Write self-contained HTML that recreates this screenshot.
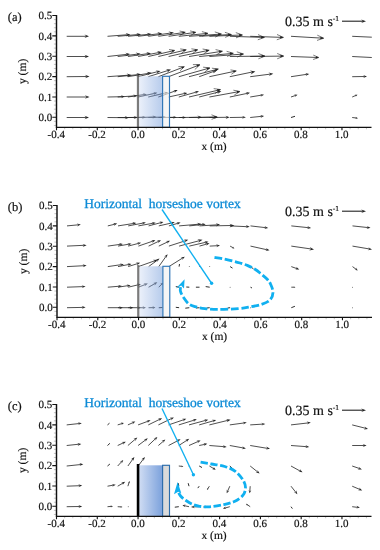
<!DOCTYPE html>
<html><head><meta charset="utf-8"><title>Figure</title>
<style>
html,body{margin:0;padding:0;background:#fff}
svg{display:block}
text{font-family:"Liberation Serif",serif;text-rendering:geometricPrecision;fill:#111;stroke:#111;stroke-width:0.18px}
.t{font-size:11px}
.al{font-size:11.5px}
.pl{font-size:12.5px}
.rf{font-size:14px}
.bl{white-space:pre;font-size:13.5px;fill:#0d8bd6;stroke:#0d8bd6;stroke-width:0.28px}
</style></head><body>
<svg width="380" height="550" viewBox="0 0 380 550">
<defs>
<linearGradient id="g1" x1="0" x2="1" y1="0" y2="0"><stop offset="0" stop-color="#dde6f7"/><stop offset="1" stop-color="#86a9df"/></linearGradient>
<linearGradient id="g2" x1="0" x2="1" y1="0" y2="0"><stop offset="0" stop-color="#cfdcf3"/><stop offset="1" stop-color="#7ba1dc"/></linearGradient>
</defs>
<rect width="380" height="550" fill="#fff"/>
<path d="M66.7 36.3L86.3 36.3" stroke="#222" stroke-width="0.8" fill="none"/>
<path d="M89.0 36.3L84.5 38.0L86.3 36.3L84.5 34.6Z" fill="#222"/>
<path d="M107.5 36.3L127.6 34.7" stroke="#222" stroke-width="0.8" fill="none"/>
<path d="M130.3 34.5L125.9 36.6L127.6 34.7L125.6 33.1Z" fill="#222"/>
<path d="M117.7 36.3L138.2 34.5" stroke="#222" stroke-width="0.8" fill="none"/>
<path d="M141.0 34.3L136.5 36.5L138.2 34.5L136.2 32.9Z" fill="#222"/>
<path d="M127.9 36.3L148.7 34.3" stroke="#222" stroke-width="0.8" fill="none"/>
<path d="M151.5 34.0L146.9 36.3L148.7 34.3L146.6 32.7Z" fill="#222"/>
<path d="M138.1 36.3L159.3 33.7" stroke="#222" stroke-width="0.8" fill="none"/>
<path d="M162.2 33.4L157.6 35.8L159.3 33.7L157.2 32.1Z" fill="#222"/>
<path d="M148.3 36.3L170.8 33.0" stroke="#222" stroke-width="0.8" fill="none"/>
<path d="M173.9 32.6L169.1 35.3L170.8 33.0L168.5 31.4Z" fill="#222"/>
<path d="M158.4 36.3L184.5 32.4" stroke="#222" stroke-width="0.8" fill="none"/>
<path d="M180.2 35.2L185.3 32.3L179.6 31.0" stroke="#333" stroke-width="0.65" fill="none" stroke-linejoin="miter"/>
<path d="M185.3 32.3L182.8 33.8L182.5 31.6Z" fill="#222"/>
<path d="M168.6 36.3L195.1 32.4" stroke="#222" stroke-width="0.8" fill="none"/>
<path d="M190.8 35.3L195.9 32.3L190.1 30.9" stroke="#333" stroke-width="0.65" fill="none" stroke-linejoin="miter"/>
<path d="M195.9 32.3L193.3 33.8L193.0 31.6Z" fill="#222"/>
<path d="M178.8 36.3L207.2 33.4" stroke="#222" stroke-width="0.8" fill="none"/>
<path d="M202.4 36.2L208.0 33.3L201.9 31.6" stroke="#333" stroke-width="0.65" fill="none" stroke-linejoin="miter"/>
<path d="M208.0 33.3L205.2 34.8L205.0 32.4Z" fill="#222"/>
<path d="M189.0 36.3L220.7 34.1" stroke="#222" stroke-width="0.8" fill="none"/>
<path d="M215.2 37.1L221.5 34.0L214.8 31.9" stroke="#333" stroke-width="0.65" fill="none" stroke-linejoin="miter"/>
<path d="M221.5 34.0L218.3 35.5L218.2 32.9Z" fill="#222"/>
<path d="M199.2 36.3L230.7 34.5" stroke="#222" stroke-width="0.8" fill="none"/>
<path d="M225.2 37.4L231.5 34.5L224.9 32.3" stroke="#333" stroke-width="0.65" fill="none" stroke-linejoin="miter"/>
<path d="M231.5 34.5L228.3 36.0L228.2 33.4Z" fill="#222"/>
<path d="M209.4 36.3L241.7 35.0" stroke="#222" stroke-width="0.8" fill="none"/>
<path d="M236.0 37.9L242.5 35.0L235.8 32.6" stroke="#333" stroke-width="0.65" fill="none" stroke-linejoin="miter"/>
<path d="M242.5 35.0L239.3 36.4L239.2 33.8Z" fill="#222"/>
<path d="M229.8 36.3L263.7 37.4" stroke="#222" stroke-width="0.8" fill="none"/>
<path d="M257.8 39.8L264.5 37.4L258.0 34.6" stroke="#333" stroke-width="0.65" fill="none" stroke-linejoin="miter"/>
<path d="M264.5 37.4L261.2 38.6L261.2 36.0Z" fill="#222"/>
<path d="M250.2 36.3L282.7 37.4" stroke="#222" stroke-width="0.8" fill="none"/>
<path d="M276.8 39.8L283.5 37.4L277.0 34.5" stroke="#333" stroke-width="0.65" fill="none" stroke-linejoin="miter"/>
<path d="M283.5 37.4L280.2 38.6L280.2 36.0Z" fill="#222"/>
<path d="M291.0 36.3L323.0 38.2" stroke="#222" stroke-width="0.8" fill="none"/>
<path d="M317.0 40.4L323.8 38.2L317.3 35.2" stroke="#333" stroke-width="0.65" fill="none" stroke-linejoin="miter"/>
<path d="M323.8 38.2L320.4 39.3L320.5 36.7Z" fill="#222"/>
<path d="M352.2 36.3l19.6 0.9" stroke="#222" stroke-width="0.8" fill="none"/>
<path d="M66.7 56.5L86.3 56.5" stroke="#222" stroke-width="0.8" fill="none"/>
<path d="M89.0 56.5L84.5 58.2L86.3 56.5L84.5 54.8Z" fill="#222"/>
<path d="M107.5 56.5L127.3 54.3" stroke="#222" stroke-width="0.8" fill="none"/>
<path d="M130.0 54.0L125.7 56.2L127.3 54.3L125.3 52.8Z" fill="#222"/>
<path d="M117.7 56.5L137.8 54.1" stroke="#222" stroke-width="0.8" fill="none"/>
<path d="M140.5 53.8L136.1 56.1L137.8 54.1L135.7 52.6Z" fill="#222"/>
<path d="M127.9 56.5L148.2 53.6" stroke="#222" stroke-width="0.8" fill="none"/>
<path d="M151.0 53.2L146.6 55.6L148.2 53.6L146.1 52.1Z" fill="#222"/>
<path d="M138.1 56.5L159.1 52.5" stroke="#222" stroke-width="0.8" fill="none"/>
<path d="M162.0 52.0L157.6 54.7L159.1 52.5L156.9 51.1Z" fill="#222"/>
<path d="M148.3 56.5L174.0 50.6" stroke="#222" stroke-width="0.8" fill="none"/>
<path d="M170.0 53.7L174.8 50.4L169.0 49.5" stroke="#333" stroke-width="0.65" fill="none" stroke-linejoin="miter"/>
<path d="M174.8 50.4L172.4 52.1L171.9 49.9Z" fill="#222"/>
<path d="M158.4 56.5L185.5 50.0" stroke="#222" stroke-width="0.8" fill="none"/>
<path d="M181.3 53.4L186.3 49.8L180.2 48.9" stroke="#333" stroke-width="0.65" fill="none" stroke-linejoin="miter"/>
<path d="M186.3 49.8L183.8 51.6L183.2 49.4Z" fill="#222"/>
<path d="M168.6 56.5L197.0 50.0" stroke="#222" stroke-width="0.8" fill="none"/>
<path d="M192.5 53.5L197.8 49.8L191.4 48.8" stroke="#333" stroke-width="0.65" fill="none" stroke-linejoin="miter"/>
<path d="M197.8 49.8L195.2 51.6L194.6 49.3Z" fill="#222"/>
<path d="M178.8 56.5L208.4 50.4" stroke="#222" stroke-width="0.8" fill="none"/>
<path d="M203.6 53.9L209.2 50.2L202.6 49.0" stroke="#333" stroke-width="0.65" fill="none" stroke-linejoin="miter"/>
<path d="M209.2 50.2L206.4 52.0L205.9 49.6Z" fill="#222"/>
<path d="M189.0 56.5L221.7 51.3" stroke="#222" stroke-width="0.8" fill="none"/>
<path d="M216.4 54.8L222.5 51.2L215.6 49.6" stroke="#333" stroke-width="0.65" fill="none" stroke-linejoin="miter"/>
<path d="M222.5 51.2L219.4 53.0L219.0 50.4Z" fill="#222"/>
<path d="M199.2 56.5L232.6 53.4" stroke="#222" stroke-width="0.8" fill="none"/>
<path d="M227.1 56.5L233.4 53.3L226.6 51.3" stroke="#333" stroke-width="0.65" fill="none" stroke-linejoin="miter"/>
<path d="M233.4 53.3L230.2 54.9L230.0 52.3Z" fill="#222"/>
<path d="M209.4 56.5L242.8 54.1" stroke="#222" stroke-width="0.8" fill="none"/>
<path d="M237.2 57.1L243.6 54.0L236.8 51.8" stroke="#333" stroke-width="0.65" fill="none" stroke-linejoin="miter"/>
<path d="M243.6 54.0L240.4 55.6L240.2 52.9Z" fill="#222"/>
<path d="M229.8 56.5L264.2 56.1" stroke="#222" stroke-width="0.8" fill="none"/>
<path d="M258.4 58.8L265.0 56.1L258.4 53.5" stroke="#333" stroke-width="0.65" fill="none" stroke-linejoin="miter"/>
<path d="M265.0 56.1L261.7 57.5L261.7 54.8Z" fill="#222"/>
<path d="M250.2 56.5L283.0 56.1" stroke="#222" stroke-width="0.8" fill="none"/>
<path d="M277.2 58.8L283.8 56.1L277.2 53.5" stroke="#333" stroke-width="0.65" fill="none" stroke-linejoin="miter"/>
<path d="M283.8 56.1L280.5 57.5L280.5 54.8Z" fill="#222"/>
<path d="M291.0 56.5L318.0 57.5" stroke="#222" stroke-width="0.8" fill="none"/>
<path d="M313.1 59.5L318.8 57.5L313.3 55.1" stroke="#333" stroke-width="0.65" fill="none" stroke-linejoin="miter"/>
<path d="M318.8 57.5L315.9 58.5L316.0 56.3Z" fill="#222"/>
<path d="M352.2 56.5l19.6 1.0" stroke="#222" stroke-width="0.8" fill="none"/>
<path d="M66.7 76.7L86.8 76.5" stroke="#222" stroke-width="0.8" fill="none"/>
<path d="M89.5 76.5L85.0 78.3L86.8 76.5L84.9 74.8Z" fill="#222"/>
<path d="M107.5 76.7L128.6 75.2" stroke="#222" stroke-width="0.8" fill="none"/>
<path d="M131.5 75.0L126.8 77.2L128.6 75.2L126.6 73.5Z" fill="#222"/>
<path d="M117.7 76.7L138.2 74.6" stroke="#222" stroke-width="0.8" fill="none"/>
<path d="M141.0 74.3L136.5 76.6L138.2 74.6L136.2 73.0Z" fill="#222"/>
<path d="M127.9 76.7L148.8 73.3" stroke="#222" stroke-width="0.8" fill="none"/>
<path d="M151.6 72.8L147.1 75.4L148.8 73.3L146.6 71.8Z" fill="#222"/>
<path d="M138.1 76.7L157.8 71.6" stroke="#222" stroke-width="0.8" fill="none"/>
<path d="M160.5 70.9L156.5 73.8L157.8 71.6L155.6 70.4Z" fill="#222"/>
<path d="M148.3 76.7L168.3 70.4" stroke="#222" stroke-width="0.8" fill="none"/>
<path d="M171.0 69.5L167.0 72.7L168.3 70.4L165.9 69.2Z" fill="#222"/>
<path d="M158.4 76.7L183.7 67.0" stroke="#222" stroke-width="0.8" fill="none"/>
<path d="M180.0 70.8L184.4 66.7L178.4 66.6" stroke="#333" stroke-width="0.65" fill="none" stroke-linejoin="miter"/>
<path d="M184.4 66.7L182.2 68.7L181.4 66.7Z" fill="#222"/>
<path d="M168.6 76.7L199.3 65.0" stroke="#222" stroke-width="0.8" fill="none"/>
<path d="M194.8 69.5L200.0 64.7L192.9 64.6" stroke="#333" stroke-width="0.65" fill="none" stroke-linejoin="miter"/>
<path d="M200.0 64.7L197.4 67.1L196.4 64.6Z" fill="#222"/>
<path d="M178.8 76.7L209.2 68.1" stroke="#222" stroke-width="0.8" fill="none"/>
<path d="M204.5 72.2L210.0 67.9L203.1 67.2" stroke="#333" stroke-width="0.65" fill="none" stroke-linejoin="miter"/>
<path d="M210.0 67.9L207.2 70.0L206.5 67.5Z" fill="#222"/>
<path d="M189.0 76.7L217.6 69.2" stroke="#222" stroke-width="0.8" fill="none"/>
<path d="M213.1 72.9L218.4 69.0L211.9 68.2" stroke="#333" stroke-width="0.65" fill="none" stroke-linejoin="miter"/>
<path d="M218.4 69.0L215.8 70.9L215.2 68.6Z" fill="#222"/>
<path d="M199.2 76.7L214.8 71.0" stroke="#222" stroke-width="0.8" fill="none"/>
<path d="M217.0 70.2L213.8 72.9L214.8 71.0L212.8 70.1Z" fill="#222"/>
<path d="M209.4 76.7L235.5 71.1" stroke="#222" stroke-width="0.8" fill="none"/>
<path d="M231.4 74.2L236.3 70.9L230.5 69.9" stroke="#333" stroke-width="0.65" fill="none" stroke-linejoin="miter"/>
<path d="M236.3 70.9L233.8 72.6L233.4 70.4Z" fill="#222"/>
<path d="M229.8 76.7L252.3 72.0" stroke="#222" stroke-width="0.8" fill="none"/>
<path d="M255.4 71.4L250.7 74.4L252.3 72.0L249.9 70.5Z" fill="#222"/>
<path d="M250.2 76.7L270.5 74.1" stroke="#222" stroke-width="0.8" fill="none"/>
<path d="M273.3 73.7L268.9 76.1L270.5 74.1L268.5 72.5Z" fill="#222"/>
<path d="M291.0 76.7L306.9 74.3" stroke="#222" stroke-width="0.8" fill="none"/>
<path d="M309.2 73.9L305.6 76.0L306.9 74.3L305.2 73.0Z" fill="#222"/>
<path d="M352.2 76.7L364.7 76.5" stroke="#222" stroke-width="0.8" fill="none"/>
<path d="M367.0 76.5L363.1 78.0L364.7 76.5L363.1 75.1Z" fill="#222"/>
<path d="M66.7 97.0L86.8 97.0" stroke="#222" stroke-width="0.8" fill="none"/>
<path d="M89.5 97.0L84.9 98.7L86.8 97.0L84.9 95.3Z" fill="#222"/>
<path d="M107.5 97.0L122.5 96.7" stroke="#222" stroke-width="0.8" fill="none"/>
<path d="M124.8 96.6L120.9 98.2L122.5 96.7L120.9 95.2Z" fill="#222"/>
<path d="M117.7 97.0L134.9 95.9" stroke="#222" stroke-width="0.8" fill="none"/>
<path d="M137.3 95.7L133.5 97.5L134.9 95.9L133.3 94.5Z" fill="#222"/>
<path d="M127.9 97.0L144.5 94.5" stroke="#222" stroke-width="0.8" fill="none"/>
<path d="M146.8 94.2L143.2 96.2L144.5 94.5L142.7 93.3Z" fill="#222"/>
<path d="M138.1 97.0L155.0 93.3" stroke="#222" stroke-width="0.8" fill="none"/>
<path d="M157.3 92.8L153.8 95.1L155.0 93.3L153.1 92.2Z" fill="#222"/>
<path d="M148.3 97.0L165.8 92.9" stroke="#222" stroke-width="0.8" fill="none"/>
<path d="M168.2 92.3L164.6 94.8L165.8 92.9L163.9 91.7Z" fill="#222"/>
<path d="M158.4 97.0L175.4 90.9" stroke="#222" stroke-width="0.8" fill="none"/>
<path d="M177.7 90.1L174.4 92.9L175.4 90.9L173.3 90.0Z" fill="#222"/>
<path d="M168.6 97.0L185.0 93.4" stroke="#222" stroke-width="0.8" fill="none"/>
<path d="M187.3 92.9L183.8 95.2L185.0 93.4L183.2 92.3Z" fill="#222"/>
<path d="M178.8 97.0L196.6 92.0" stroke="#222" stroke-width="0.8" fill="none"/>
<path d="M199.0 91.3L195.4 94.0L196.6 92.0L194.5 90.9Z" fill="#222"/>
<path d="M189.0 97.0L219.8 89.8" stroke="#222" stroke-width="0.8" fill="none"/>
<path d="M214.9 93.6L220.6 89.6L213.7 88.6" stroke="#333" stroke-width="0.65" fill="none" stroke-linejoin="miter"/>
<path d="M220.6 89.6L217.7 91.6L217.1 89.1Z" fill="#222"/>
<path d="M199.2 97.0L218.7 92.0" stroke="#222" stroke-width="0.8" fill="none"/>
<path d="M221.4 91.3L217.4 94.1L218.7 92.0L216.5 90.8Z" fill="#222"/>
<path d="M209.4 97.0L239.2 91.6" stroke="#222" stroke-width="0.8" fill="none"/>
<path d="M234.3 95.0L240.0 91.5L233.4 90.2" stroke="#333" stroke-width="0.65" fill="none" stroke-linejoin="miter"/>
<path d="M240.0 91.5L237.2 93.3L236.7 90.8Z" fill="#222"/>
<path d="M229.8 97.0L247.6 93.3" stroke="#222" stroke-width="0.8" fill="none"/>
<path d="M250.0 92.8L246.3 95.2L247.6 93.3L245.6 92.1Z" fill="#222"/>
<path d="M250.2 97.0L261.8 95.1" stroke="#222" stroke-width="0.8" fill="none"/>
<path d="M264.1 94.7L260.5 96.8L261.8 95.1L260.0 93.9Z" fill="#222"/>
<path d="M291.0 97.0L295.7 95.4" stroke="#222" stroke-width="0.8" fill="none"/>
<path d="M297.5 94.8L295.0 97.1L295.7 95.4L294.1 94.5Z" fill="#222"/>
<path d="M352.2 97.0L356.1 95.3" stroke="#222" stroke-width="0.8" fill="none"/>
<path d="M357.5 94.7L355.6 96.8L356.1 95.3L354.6 94.7Z" fill="#222"/>
<path d="M66.7 117.5L86.3 117.5" stroke="#222" stroke-width="0.8" fill="none"/>
<path d="M89.0 117.5L84.5 119.2L86.3 117.5L84.5 115.8Z" fill="#222"/>
<path d="M107.5 117.5L126.4 117.7" stroke="#222" stroke-width="0.8" fill="none"/>
<path d="M129.0 117.7L124.7 119.3L126.4 117.7L124.7 116.0Z" fill="#222"/>
<path d="M117.7 117.5L135.2 117.5" stroke="#222" stroke-width="0.8" fill="none"/>
<path d="M137.6 117.5L133.6 119.0L135.2 117.5L133.6 116.0Z" fill="#222"/>
<path d="M127.9 117.5L143.6 117.3" stroke="#222" stroke-width="0.8" fill="none"/>
<path d="M145.9 117.3L142.0 118.8L143.6 117.3L142.0 115.9Z" fill="#222"/>
<path d="M138.1 117.5L154.1 117.1" stroke="#222" stroke-width="0.8" fill="none"/>
<path d="M156.4 117.0L152.5 118.6L154.1 117.1L152.5 115.6Z" fill="#222"/>
<path d="M148.3 117.5L163.7 117.1" stroke="#222" stroke-width="0.8" fill="none"/>
<path d="M166.0 117.0L162.1 118.6L163.7 117.1L162.1 115.6Z" fill="#222"/>
<path d="M158.4 117.5L174.5 117.3" stroke="#222" stroke-width="0.8" fill="none"/>
<path d="M176.8 117.3L172.9 118.8L174.5 117.3L172.9 115.9Z" fill="#222"/>
<path d="M168.6 117.5L183.7 117.5" stroke="#222" stroke-width="0.8" fill="none"/>
<path d="M186.0 117.5L182.1 119.0L183.7 117.5L182.1 116.0Z" fill="#222"/>
<path d="M178.8 117.5L199.2 117.3" stroke="#222" stroke-width="0.8" fill="none"/>
<path d="M202.0 117.3L197.4 119.1L199.2 117.3L197.4 115.6Z" fill="#222"/>
<path d="M189.0 117.5L216.4 117.0" stroke="#222" stroke-width="0.8" fill="none"/>
<path d="M211.6 119.4L217.2 117.0L211.5 114.8" stroke="#333" stroke-width="0.65" fill="none" stroke-linejoin="miter"/>
<path d="M217.2 117.0L214.4 118.2L214.4 115.9Z" fill="#222"/>
<path d="M199.2 117.5L215.7 117.3" stroke="#222" stroke-width="0.8" fill="none"/>
<path d="M218.0 117.3L214.1 118.8L215.7 117.3L214.1 115.9Z" fill="#222"/>
<path d="M209.4 117.5L227.2 117.3" stroke="#222" stroke-width="0.8" fill="none"/>
<path d="M229.6 117.3L225.6 118.9L227.2 117.3L225.5 115.8Z" fill="#222"/>
<path d="M229.8 117.5L243.6 117.3" stroke="#222" stroke-width="0.8" fill="none"/>
<path d="M245.9 117.3L242.0 118.8L243.6 117.3L242.0 115.9Z" fill="#222"/>
<path d="M250.2 117.5L261.8 116.3" stroke="#222" stroke-width="0.8" fill="none"/>
<path d="M264.1 116.1L260.4 118.0L261.8 116.3L260.1 115.0Z" fill="#222"/>
<path d="M291.0 117.5L295.0 116.3" stroke="#222" stroke-width="0.9500000000000001" fill="none"/>
<path d="M352.2 117.5L356.4 118.0" stroke="#222" stroke-width="0.8" fill="none"/>
<path d="M358.0 118.2L355.2 119.1L356.4 118.0L355.5 116.7Z" fill="#222"/>
<rect x="139.16" y="76.30" width="23.44" height="51.05" fill="url(#g1)" opacity="0.6"/>
<rect x="136.86" y="75.00" width="2.2" height="52.35" fill="#5a5a5a" opacity="0.8"/>
<rect x="162.60" y="76.30" width="6.9" height="51.05" fill="#f0f0f0" fill-opacity="0.66" stroke="#2e75b6" stroke-width="1.15"/>
<clipPath id="cpa"><rect x="139.16" y="76.30" width="22.94" height="51.05"/></clipPath>
<g clip-path="url(#cpa)" opacity="0.38">
<path d="M117.7 97.0L134.9 95.9" stroke="#3c4a66" stroke-width="1.0" fill="none"/>
<path d="M137.3 95.7L133.5 97.5L134.9 95.9L133.3 94.5Z" fill="#3c4a66"/>
<path d="M127.9 97.0L144.5 94.5" stroke="#3c4a66" stroke-width="1.0" fill="none"/>
<path d="M146.8 94.2L143.2 96.2L144.5 94.5L142.7 93.3Z" fill="#3c4a66"/>
<path d="M138.1 97.0L155.0 93.3" stroke="#3c4a66" stroke-width="1.0" fill="none"/>
<path d="M157.3 92.8L153.8 95.1L155.0 93.3L153.1 92.2Z" fill="#3c4a66"/>
<path d="M148.3 97.0L165.8 92.9" stroke="#3c4a66" stroke-width="1.0" fill="none"/>
<path d="M168.2 92.3L164.6 94.8L165.8 92.9L163.9 91.7Z" fill="#3c4a66"/>
<path d="M158.4 97.0L175.4 90.9" stroke="#3c4a66" stroke-width="1.0" fill="none"/>
<path d="M177.7 90.1L174.4 92.9L175.4 90.9L173.3 90.0Z" fill="#3c4a66"/>
<path d="M117.7 117.5L135.2 117.5" stroke="#3c4a66" stroke-width="1.0" fill="none"/>
<path d="M137.6 117.5L133.6 119.0L135.2 117.5L133.6 116.0Z" fill="#3c4a66"/>
<path d="M127.9 117.5L143.6 117.3" stroke="#3c4a66" stroke-width="1.0" fill="none"/>
<path d="M145.9 117.3L142.0 118.8L143.6 117.3L142.0 115.9Z" fill="#3c4a66"/>
<path d="M138.1 117.5L154.1 117.1" stroke="#3c4a66" stroke-width="1.0" fill="none"/>
<path d="M156.4 117.0L152.5 118.6L154.1 117.1L152.5 115.6Z" fill="#3c4a66"/>
<path d="M148.3 117.5L163.7 117.1" stroke="#3c4a66" stroke-width="1.0" fill="none"/>
<path d="M166.0 117.0L162.1 118.6L163.7 117.1L162.1 115.6Z" fill="#3c4a66"/>
<path d="M158.4 117.5L174.5 117.3" stroke="#3c4a66" stroke-width="1.0" fill="none"/>
<path d="M176.8 117.3L172.9 118.8L174.5 117.3L172.9 115.9Z" fill="#3c4a66"/>
</g>
<path d="M56.50 125.44h-2.6M56.50 121.37h-2.6M56.50 113.23h-2.6M56.50 109.16h-2.6M56.50 105.09h-2.6M56.50 101.02h-2.6M56.50 92.88h-2.6M56.50 88.81h-2.6M56.50 84.74h-2.6M56.50 80.67h-2.6M56.50 72.53h-2.6M56.50 68.46h-2.6M56.50 64.39h-2.6M56.50 60.32h-2.6M56.50 52.18h-2.6M56.50 48.11h-2.6M56.50 44.04h-2.6M56.50 39.97h-2.6M56.50 31.83h-2.6M56.50 27.76h-2.6M56.50 23.69h-2.6M56.50 19.62h-2.6M64.66 127.35v1.9M72.81 127.35v1.9M80.97 127.35v1.9M89.12 127.35v1.9M105.44 127.35v1.9M113.59 127.35v1.9M121.75 127.35v1.9M129.90 127.35v1.9M146.22 127.35v1.9M154.37 127.35v1.9M162.53 127.35v1.9M170.68 127.35v1.9M187.00 127.35v1.9M195.15 127.35v1.9M203.31 127.35v1.9M211.46 127.35v1.9M227.78 127.35v1.9M235.93 127.35v1.9M244.09 127.35v1.9M252.24 127.35v1.9M268.56 127.35v1.9M276.71 127.35v1.9M284.87 127.35v1.9M293.02 127.35v1.9M309.34 127.35v1.9M317.49 127.35v1.9M325.65 127.35v1.9M333.80 127.35v1.9M350.12 127.35v1.9M358.27 127.35v1.9M366.43 127.35v1.9" stroke="#9a9a9a" stroke-width="0.6" fill="none"/>
<path d="M56.50 117.30h-4.2M56.50 96.95h-4.2M56.50 76.60h-4.2M56.50 56.25h-4.2M56.50 35.90h-4.2M56.50 15.55h-4.2M56.50 127.35v2.9M97.28 127.35v2.9M138.06 127.35v2.9M178.84 127.35v2.9M219.62 127.35v2.9M260.40 127.35v2.9M301.18 127.35v2.9M341.96 127.35v2.9" stroke="#111" stroke-width="1.1" fill="none"/>
<path d="M56.50 15.00V127.35H371.50" fill="none" stroke="#111" stroke-width="1.45"/>
<text x="52.20" y="121.00" text-anchor="end" class="t">0.0</text>
<text x="52.20" y="100.65" text-anchor="end" class="t">0.1</text>
<text x="52.20" y="80.30" text-anchor="end" class="t">0.2</text>
<text x="52.20" y="59.95" text-anchor="end" class="t">0.3</text>
<text x="52.20" y="39.60" text-anchor="end" class="t">0.4</text>
<text x="52.20" y="19.25" text-anchor="end" class="t">0.5</text>
<text x="56.20" y="137.80" text-anchor="middle" class="t">-0.4</text>
<text x="96.98" y="137.80" text-anchor="middle" class="t">-0.2</text>
<text x="137.76" y="137.80" text-anchor="middle" class="t">0.0</text>
<text x="178.54" y="137.80" text-anchor="middle" class="t">0.2</text>
<text x="219.32" y="137.80" text-anchor="middle" class="t">0.4</text>
<text x="260.10" y="137.80" text-anchor="middle" class="t">0.6</text>
<text x="300.88" y="137.80" text-anchor="middle" class="t">0.8</text>
<text x="341.66" y="137.80" text-anchor="middle" class="t">1.0</text>
<text x="214.10" y="149.95" text-anchor="middle" class="al">x (m)</text>
<text transform="translate(26.20 71.40) rotate(-90)" text-anchor="middle" class="al">y (m)</text>
<text x="7.8" y="21.05" class="pl">(a)</text>
<text x="285" y="26.15" class="rf">0.35 m s<tspan dy="-5" font-size="7.5">-1</tspan></text>
<path d="M342.0 21.2L363.1 21.2" stroke="#222" stroke-width="1.1" fill="none"/>
<path d="M366.0 21.2L361.2 23.1L363.1 21.2L361.2 19.4Z" fill="#222"/>
<path d="M67.0 225.9L78.5 224.8" stroke="#222" stroke-width="0.8" fill="none"/>
<path d="M80.8 224.6L77.1 226.4L78.5 224.8L76.8 223.5Z" fill="#222"/>
<path d="M107.8 225.9L114.9 224.2" stroke="#222" stroke-width="0.8" fill="none"/>
<path d="M117.2 223.6L113.8 226.0L114.9 224.2L113.1 223.1Z" fill="#222"/>
<path d="M118.0 225.9L134.0 223.4" stroke="#222" stroke-width="0.8" fill="none"/>
<path d="M136.3 223.0L132.7 225.1L134.0 223.4L132.2 222.1Z" fill="#222"/>
<path d="M128.2 225.9L143.6 223.0" stroke="#222" stroke-width="0.8" fill="none"/>
<path d="M145.9 222.6L142.3 224.8L143.6 223.0L141.8 221.9Z" fill="#222"/>
<path d="M138.4 225.9L153.4 223.2" stroke="#222" stroke-width="0.8" fill="none"/>
<path d="M155.7 222.8L152.1 224.9L153.4 223.2L151.6 222.0Z" fill="#222"/>
<path d="M148.6 225.9L161.1 222.6" stroke="#222" stroke-width="0.8" fill="none"/>
<path d="M163.4 222.0L160.0 224.4L161.1 222.6L159.3 221.6Z" fill="#222"/>
<path d="M158.8 225.9L172.5 222.8" stroke="#222" stroke-width="0.8" fill="none"/>
<path d="M174.8 222.3L171.3 224.6L172.5 222.8L170.7 221.7Z" fill="#222"/>
<path d="M168.9 225.9L178.3 223.2" stroke="#222" stroke-width="0.8" fill="none"/>
<path d="M180.6 222.6L177.3 225.1L178.3 223.2L176.4 222.2Z" fill="#222"/>
<path d="M179.1 225.9L198.9 224.2" stroke="#222" stroke-width="0.8" fill="none"/>
<path d="M201.6 224.0L197.3 226.1L198.9 224.2L197.0 222.7Z" fill="#222"/>
<path d="M189.3 225.9L203.4 224.4" stroke="#222" stroke-width="0.8" fill="none"/>
<path d="M205.7 224.2L202.0 226.1L203.4 224.4L201.7 223.1Z" fill="#222"/>
<path d="M199.5 225.9L217.5 224.8" stroke="#222" stroke-width="0.8" fill="none"/>
<path d="M220.0 224.6L216.0 226.4L217.5 224.8L215.8 223.3Z" fill="#222"/>
<path d="M209.7 225.9L231.4 225.5" stroke="#222" stroke-width="0.8" fill="none"/>
<path d="M234.4 225.5L229.5 227.5L231.4 225.5L229.4 223.7Z" fill="#222"/>
<path d="M230.1 225.9L247.3 226.7" stroke="#222" stroke-width="0.8" fill="none"/>
<path d="M249.7 226.8L245.7 228.1L247.3 226.7L245.9 225.1Z" fill="#222"/>
<path d="M250.5 225.9L265.9 227.7" stroke="#222" stroke-width="0.8" fill="none"/>
<path d="M268.2 228.0L264.2 229.0L265.9 227.7L264.5 226.1Z" fill="#222"/>
<path d="M291.3 225.9L308.7 227.7" stroke="#222" stroke-width="0.8" fill="none"/>
<path d="M311.1 228.0L307.0 229.1L308.7 227.7L307.3 226.1Z" fill="#222"/>
<path d="M352.5 225.9L368.2 227.6" stroke="#222" stroke-width="0.8" fill="none"/>
<path d="M370.5 227.8L366.5 228.9L368.2 227.6L366.8 225.9Z" fill="#222"/>
<path d="M67.0 246.1L84.2 245.3" stroke="#222" stroke-width="0.8" fill="none"/>
<path d="M86.6 245.2L82.7 246.9L84.2 245.3L82.6 243.9Z" fill="#222"/>
<path d="M107.8 246.1L120.6 244.3" stroke="#222" stroke-width="0.8" fill="none"/>
<path d="M122.9 244.0L119.2 246.0L120.6 244.3L118.8 243.1Z" fill="#222"/>
<path d="M118.0 246.1L129.2 244.1" stroke="#222" stroke-width="0.8" fill="none"/>
<path d="M131.5 243.7L127.9 245.8L129.2 244.1L127.4 242.9Z" fill="#222"/>
<path d="M128.2 246.1L138.8 243.3" stroke="#222" stroke-width="0.8" fill="none"/>
<path d="M141.1 242.7L137.7 245.1L138.8 243.3L137.0 242.3Z" fill="#222"/>
<path d="M138.4 246.1L153.2 241.0" stroke="#222" stroke-width="0.8" fill="none"/>
<path d="M155.4 240.2L152.2 242.9L153.2 241.0L151.2 240.1Z" fill="#222"/>
<path d="M148.6 246.1L158.9 241.2" stroke="#222" stroke-width="0.8" fill="none"/>
<path d="M161.0 240.2L158.1 243.2L158.9 241.2L156.8 240.5Z" fill="#222"/>
<path d="M158.8 246.1L167.9 241.8" stroke="#222" stroke-width="0.8" fill="none"/>
<path d="M170.0 240.8L167.1 243.8L167.9 241.8L165.8 241.1Z" fill="#222"/>
<path d="M168.9 246.1L185.9 240.6" stroke="#222" stroke-width="0.8" fill="none"/>
<path d="M188.2 239.8L184.8 242.5L185.9 240.6L183.9 239.6Z" fill="#222"/>
<path d="M179.1 246.1L199.7 240.6" stroke="#222" stroke-width="0.8" fill="none"/>
<path d="M202.5 239.8L198.3 242.8L199.7 240.6L197.3 239.3Z" fill="#222"/>
<path d="M189.3 246.1L206.2 242.2" stroke="#222" stroke-width="0.8" fill="none"/>
<path d="M208.5 241.7L205.0 244.0L206.2 242.2L204.3 241.1Z" fill="#222"/>
<path d="M199.5 246.1L207.3 243.9" stroke="#222" stroke-width="0.8" fill="none"/>
<path d="M209.6 243.3L206.2 245.8L207.3 243.9L205.4 242.9Z" fill="#222"/>
<path d="M209.7 246.1L217.7 245.7" stroke="#222" stroke-width="0.8" fill="none"/>
<path d="M220.0 245.6L216.2 247.3L217.7 245.7L216.0 244.3Z" fill="#222"/>
<path d="M230.1 246.1L233.2 247.8" stroke="#222" stroke-width="0.8" fill="none"/>
<path d="M234.4 248.4L232.0 248.2L233.2 247.8L232.9 246.5Z" fill="#222"/>
<path d="M250.5 246.1L267.2 249.8" stroke="#222" stroke-width="0.8" fill="none"/>
<path d="M269.5 250.3L265.4 250.9L267.2 249.8L266.0 248.0Z" fill="#222"/>
<path d="M291.3 246.1L311.3 249.0" stroke="#222" stroke-width="0.8" fill="none"/>
<path d="M314.0 249.4L309.2 250.5L311.3 249.0L309.7 247.0Z" fill="#222"/>
<path d="M352.5 246.1L369.7 249.0" stroke="#222" stroke-width="0.8" fill="none"/>
<path d="M372.0 249.4L367.8 250.2L369.7 249.0L368.3 247.3Z" fill="#222"/>
<path d="M67.0 266.6L84.2 265.7" stroke="#222" stroke-width="0.8" fill="none"/>
<path d="M86.6 265.6L82.8 267.3L84.2 265.7L82.6 264.3Z" fill="#222"/>
<path d="M107.8 266.6L121.6 264.6" stroke="#222" stroke-width="0.8" fill="none"/>
<path d="M123.9 264.3L120.2 266.3L121.6 264.6L119.8 263.4Z" fill="#222"/>
<path d="M118.0 266.6L129.2 264.4" stroke="#222" stroke-width="0.8" fill="none"/>
<path d="M131.5 264.0L127.9 266.2L129.2 264.4L127.4 263.3Z" fill="#222"/>
<path d="M128.2 266.6L137.9 263.5" stroke="#222" stroke-width="0.8" fill="none"/>
<path d="M140.1 262.8L136.8 265.4L137.9 263.5L135.9 262.6Z" fill="#222"/>
<path d="M138.4 266.6L155.0 260.7" stroke="#222" stroke-width="0.8" fill="none"/>
<path d="M157.3 259.9L154.0 262.7L155.0 260.7L153.0 259.8Z" fill="#222"/>
<path d="M148.6 266.6L157.6 260.0" stroke="#222" stroke-width="0.8" fill="none"/>
<path d="M159.5 258.6L157.2 262.1L157.6 260.0L155.5 259.7Z" fill="#222"/>
<path d="M158.8 266.6L166.2 256.1" stroke="#222" stroke-width="0.8" fill="none"/>
<path d="M167.6 254.2L166.5 258.2L166.2 256.1L164.1 256.5Z" fill="#222"/>
<path d="M168.9 266.6L182.8 257.9" stroke="#222" stroke-width="0.8" fill="none"/>
<path d="M184.8 256.7L182.3 260.0L182.8 257.9L180.7 257.5Z" fill="#222"/>
<path d="M179.1 266.6L179.5 264.0" stroke="#222" stroke-width="0.9500000000000001" fill="none"/>
<circle cx="189.3" cy="266.6" r="0.5" fill="#222" opacity="0.7"/>
<circle cx="199.5" cy="266.6" r="0.5" fill="#222" opacity="0.7"/>
<circle cx="209.7" cy="266.6" r="0.5" fill="#222" opacity="0.7"/>
<path d="M230.1 266.6L232.5 268.1" stroke="#222" stroke-width="0.9500000000000001" fill="none"/>
<path d="M250.5 266.6L253.5 268.9" stroke="#222" stroke-width="0.9500000000000001" fill="none"/>
<path d="M291.3 266.6L297.1 268.7" stroke="#222" stroke-width="0.8" fill="none"/>
<path d="M299.3 269.5L295.2 269.6L297.1 268.7L296.2 266.8Z" fill="#222"/>
<path d="M352.5 266.6L356.3 269.4" stroke="#222" stroke-width="0.8" fill="none"/>
<path d="M357.7 270.4L354.6 269.7L356.3 269.4L356.1 267.6Z" fill="#222"/>
<path d="M67.0 287.2L83.3 286.6" stroke="#222" stroke-width="0.8" fill="none"/>
<path d="M85.6 286.5L81.8 288.1L83.3 286.6L81.6 285.2Z" fill="#222"/>
<path d="M107.8 287.2L119.7 286.2" stroke="#222" stroke-width="0.8" fill="none"/>
<path d="M122.0 286.0L118.2 287.8L119.7 286.2L118.0 284.9Z" fill="#222"/>
<path d="M118.0 287.2L128.3 285.6" stroke="#222" stroke-width="0.8" fill="none"/>
<path d="M130.6 285.3L127.0 287.3L128.3 285.6L126.5 284.4Z" fill="#222"/>
<path d="M128.2 287.2L138.7 284.7" stroke="#222" stroke-width="0.8" fill="none"/>
<path d="M141.0 284.2L137.5 286.5L138.7 284.7L136.9 283.6Z" fill="#222"/>
<path d="M138.4 287.2L145.6 284.4" stroke="#222" stroke-width="0.8" fill="none"/>
<path d="M147.8 283.5L144.7 286.3L145.6 284.4L143.6 283.5Z" fill="#222"/>
<path d="M148.6 287.2L155.3 283.4" stroke="#222" stroke-width="0.8" fill="none"/>
<path d="M157.3 282.3L154.6 285.5L155.3 283.4L153.2 282.9Z" fill="#222"/>
<path d="M158.8 287.2L161.9 284.0" stroke="#222" stroke-width="0.8" fill="none"/>
<path d="M163.0 282.8L162.0 285.6L161.9 284.0L160.2 283.9Z" fill="#222"/>
<path d="M179.1 287.2L175.8 286.6" stroke="#222" stroke-width="0.9500000000000001" fill="none"/>
<path d="M189.3 287.2L186.3 287.0" stroke="#222" stroke-width="0.9500000000000001" fill="none"/>
<path d="M199.5 287.2L195.9 287.2" stroke="#222" stroke-width="0.9500000000000001" fill="none"/>
<path d="M209.7 287.2L205.7 286.6" stroke="#222" stroke-width="0.9500000000000001" fill="none"/>
<circle cx="230.1" cy="287.2" r="0.5" fill="#222" opacity="0.7"/>
<path d="M250.5 287.2L252.0 288.0" stroke="#222" stroke-width="0.9500000000000001" fill="none"/>
<path d="M291.3 287.2L294.4 287.2" stroke="#222" stroke-width="0.8" fill="none"/>
<path d="M295.5 287.2L293.6 288.0L294.4 287.2L293.6 286.4Z" fill="#222"/>
<circle cx="352.5" cy="287.2" r="0.5" fill="#222" opacity="0.7"/>
<path d="M67.0 307.7L83.3 307.4" stroke="#222" stroke-width="0.8" fill="none"/>
<path d="M85.6 307.3L81.7 308.9L83.3 307.4L81.7 305.9Z" fill="#222"/>
<path d="M107.8 307.7L120.6 307.7" stroke="#222" stroke-width="0.8" fill="none"/>
<path d="M122.9 307.7L119.0 309.2L120.6 307.7L119.0 306.2Z" fill="#222"/>
<path d="M118.0 307.7L131.1 307.7" stroke="#222" stroke-width="0.8" fill="none"/>
<path d="M133.4 307.7L129.5 309.2L131.1 307.7L129.5 306.2Z" fill="#222"/>
<path d="M128.2 307.7L138.7 307.7" stroke="#222" stroke-width="0.8" fill="none"/>
<path d="M141.0 307.7L137.1 309.2L138.7 307.7L137.1 306.2Z" fill="#222"/>
<path d="M138.4 307.7L143.9 307.7" stroke="#222" stroke-width="0.8" fill="none"/>
<path d="M145.9 307.7L142.5 309.1L143.9 307.7L142.5 306.2Z" fill="#222"/>
<path d="M148.6 307.7L153.6 307.6" stroke="#222" stroke-width="0.8" fill="none"/>
<path d="M155.4 307.5L152.4 309.0L153.6 307.6L152.3 306.2Z" fill="#222"/>
<path d="M158.8 307.7L162.4 307.5" stroke="#222" stroke-width="0.9500000000000001" fill="none"/>
<path d="M179.1 307.7L175.8 307.3" stroke="#222" stroke-width="0.9500000000000001" fill="none"/>
<path d="M189.3 307.7L185.3 308.2" stroke="#222" stroke-width="0.9500000000000001" fill="none"/>
<path d="M199.5 307.7L196.0 308.0" stroke="#222" stroke-width="0.9500000000000001" fill="none"/>
<path d="M209.7 307.7L206.7 308.0" stroke="#222" stroke-width="0.9500000000000001" fill="none"/>
<path d="M230.1 307.7L227.7 308.0" stroke="#222" stroke-width="0.9500000000000001" fill="none"/>
<circle cx="250.5" cy="307.7" r="0.5" fill="#222" opacity="0.7"/>
<path d="M291.3 307.7L294.9 306.3" stroke="#222" stroke-width="0.9500000000000001" fill="none"/>
<circle cx="352.5" cy="307.7" r="0.5" fill="#222" opacity="0.7"/>
<rect x="139.46" y="266.30" width="23.44" height="51.05" fill="url(#g1)" opacity="0.6"/>
<rect x="137.16" y="265.00" width="2.2" height="52.35" fill="#5a5a5a" opacity="0.8"/>
<rect x="162.90" y="266.30" width="6.9" height="51.05" fill="#f0f0f0" fill-opacity="0.66" stroke="#2e75b6" stroke-width="1.15"/>
<clipPath id="cpb"><rect x="139.46" y="266.30" width="22.94" height="51.05"/></clipPath>
<g clip-path="url(#cpb)" opacity="0.38">
<path d="M118.0 287.2L128.3 285.6" stroke="#3c4a66" stroke-width="1.0" fill="none"/>
<path d="M130.6 285.3L127.0 287.3L128.3 285.6L126.5 284.4Z" fill="#3c4a66"/>
<path d="M128.2 287.2L138.7 284.7" stroke="#3c4a66" stroke-width="1.0" fill="none"/>
<path d="M141.0 284.2L137.5 286.5L138.7 284.7L136.9 283.6Z" fill="#3c4a66"/>
<path d="M138.4 287.2L145.6 284.4" stroke="#3c4a66" stroke-width="1.0" fill="none"/>
<path d="M147.8 283.5L144.7 286.3L145.6 284.4L143.6 283.5Z" fill="#3c4a66"/>
<path d="M148.6 287.2L155.3 283.4" stroke="#3c4a66" stroke-width="1.0" fill="none"/>
<path d="M157.3 282.3L154.6 285.5L155.3 283.4L153.2 282.9Z" fill="#3c4a66"/>
<path d="M158.8 287.2L161.9 284.0" stroke="#3c4a66" stroke-width="1.0" fill="none"/>
<path d="M163.0 282.8L162.0 285.6L161.9 284.0L160.2 283.9Z" fill="#3c4a66"/>
<path d="M118.0 307.7L131.1 307.7" stroke="#3c4a66" stroke-width="1.0" fill="none"/>
<path d="M133.4 307.7L129.5 309.2L131.1 307.7L129.5 306.2Z" fill="#3c4a66"/>
<path d="M128.2 307.7L138.7 307.7" stroke="#3c4a66" stroke-width="1.0" fill="none"/>
<path d="M141.0 307.7L137.1 309.2L138.7 307.7L137.1 306.2Z" fill="#3c4a66"/>
<path d="M138.4 307.7L143.9 307.7" stroke="#3c4a66" stroke-width="1.0" fill="none"/>
<path d="M145.9 307.7L142.5 309.1L143.9 307.7L142.5 306.2Z" fill="#3c4a66"/>
<path d="M148.6 307.7L153.6 307.6" stroke="#3c4a66" stroke-width="1.0" fill="none"/>
<path d="M155.4 307.5L152.4 309.0L153.6 307.6L152.3 306.2Z" fill="#3c4a66"/>
<path d="M158.8 307.7L162.4 307.5" stroke="#3c4a66" stroke-width="1.15" fill="none"/>
</g>
<text x="84.3" y="208" class="bl" xml:space="preserve">Horizontal  horseshoe vortex</text>
<path d="M162 209.5L211.4 283" stroke="#10b0f0" stroke-width="1.35" fill="none"/><circle cx="211.6" cy="283.2" r="1.7" fill="#10b0f0"/>
<path d="M214.5 257.5C215.9 257.7 220.0 258.2 223.0 258.8C226.0 259.4 229.7 260.2 232.5 260.9C235.3 261.6 237.4 262.2 240.0 263.0C242.6 263.8 245.3 264.6 247.8 265.6C250.3 266.7 252.7 267.9 255.0 269.3C257.3 270.7 259.5 272.6 261.5 274.2C263.5 275.8 265.5 277.4 267.0 279.0C268.5 280.6 269.5 281.8 270.5 284.0C271.5 286.2 273.1 289.7 273.0 292.4C272.9 295.1 271.9 298.0 270.0 300.0C268.1 302.0 264.8 303.2 261.5 304.4C258.2 305.5 253.9 306.2 250.0 306.9C246.1 307.6 243.3 308.2 238.2 308.6C233.0 309.0 224.6 309.4 219.1 309.4C213.6 309.4 209.0 309.1 205.0 308.6C201.0 308.1 197.7 307.4 195.0 306.6C192.3 305.8 190.5 305.4 188.6 303.8C186.7 302.2 184.8 299.4 183.4 297.3C182.0 295.2 180.8 292.8 180.4 291.0C180.0 289.2 180.7 287.3 180.8 286.6" stroke="#10b0f0" stroke-width="2.8" stroke-dasharray="7.72 2.65" stroke-dashoffset="0" fill="none"/>
<path d="M184.6 279.3L175.9 288.4L181.2 285.600L184 288.6Z" fill="#10b0f0"/>
<path d="M57.00 315.44h-2.6M57.00 311.37h-2.6M57.00 303.23h-2.6M57.00 299.16h-2.6M57.00 295.09h-2.6M57.00 291.02h-2.6M57.00 282.88h-2.6M57.00 278.81h-2.6M57.00 274.74h-2.6M57.00 270.67h-2.6M57.00 262.53h-2.6M57.00 258.46h-2.6M57.00 254.39h-2.6M57.00 250.32h-2.6M57.00 242.18h-2.6M57.00 238.11h-2.6M57.00 234.04h-2.6M57.00 229.97h-2.6M57.00 221.83h-2.6M57.00 217.76h-2.6M57.00 213.69h-2.6M57.00 209.62h-2.6M65.16 317.35v1.9M73.31 317.35v1.9M81.47 317.35v1.9M89.62 317.35v1.9M105.94 317.35v1.9M114.09 317.35v1.9M122.25 317.35v1.9M130.40 317.35v1.9M146.72 317.35v1.9M154.87 317.35v1.9M163.03 317.35v1.9M171.18 317.35v1.9M187.50 317.35v1.9M195.65 317.35v1.9M203.81 317.35v1.9M211.96 317.35v1.9M228.28 317.35v1.9M236.43 317.35v1.9M244.59 317.35v1.9M252.74 317.35v1.9M269.06 317.35v1.9M277.21 317.35v1.9M285.37 317.35v1.9M293.52 317.35v1.9M309.84 317.35v1.9M317.99 317.35v1.9M326.15 317.35v1.9M334.30 317.35v1.9M350.62 317.35v1.9M358.77 317.35v1.9M366.93 317.35v1.9" stroke="#9a9a9a" stroke-width="0.6" fill="none"/>
<path d="M57.00 307.30h-4.2M57.00 286.95h-4.2M57.00 266.60h-4.2M57.00 246.25h-4.2M57.00 225.90h-4.2M57.00 205.55h-4.2M57.00 317.35v2.9M97.78 317.35v2.9M138.56 317.35v2.9M179.34 317.35v2.9M220.12 317.35v2.9M260.90 317.35v2.9M301.68 317.35v2.9M342.46 317.35v2.9" stroke="#111" stroke-width="1.1" fill="none"/>
<path d="M57.00 205.00V317.35H372.00" fill="none" stroke="#111" stroke-width="1.45"/>
<text x="52.70" y="311.00" text-anchor="end" class="t">0.0</text>
<text x="52.70" y="290.65" text-anchor="end" class="t">0.1</text>
<text x="52.70" y="270.30" text-anchor="end" class="t">0.2</text>
<text x="52.70" y="249.95" text-anchor="end" class="t">0.3</text>
<text x="52.70" y="229.60" text-anchor="end" class="t">0.4</text>
<text x="52.70" y="209.25" text-anchor="end" class="t">0.5</text>
<text x="56.70" y="327.80" text-anchor="middle" class="t">-0.4</text>
<text x="97.48" y="327.80" text-anchor="middle" class="t">-0.2</text>
<text x="138.26" y="327.80" text-anchor="middle" class="t">0.0</text>
<text x="179.04" y="327.80" text-anchor="middle" class="t">0.2</text>
<text x="219.82" y="327.80" text-anchor="middle" class="t">0.4</text>
<text x="260.60" y="327.80" text-anchor="middle" class="t">0.6</text>
<text x="301.38" y="327.80" text-anchor="middle" class="t">0.8</text>
<text x="342.16" y="327.80" text-anchor="middle" class="t">1.0</text>
<text x="214.60" y="339.95" text-anchor="middle" class="al">x (m)</text>
<text transform="translate(26.70 261.40) rotate(-90)" text-anchor="middle" class="al">y (m)</text>
<text x="7.8" y="211.05" class="pl">(b)</text>
<text x="285" y="216.15" class="rf">0.35 m s<tspan dy="-5" font-size="7.5">-1</tspan></text>
<path d="M342.0 211.2L363.1 211.2" stroke="#222" stroke-width="1.1" fill="none"/>
<path d="M366.0 211.2L361.2 213.1L363.1 211.2L361.2 209.4Z" fill="#222"/>
<path d="M66.7 424.9L79.5 423.5" stroke="#222" stroke-width="0.8" fill="none"/>
<path d="M81.8 423.2L78.1 425.1L79.5 423.5L77.8 422.2Z" fill="#222"/>
<path d="M107.5 424.9L109.5 423.2" stroke="#222" stroke-width="0.9500000000000001" fill="none"/>
<path d="M117.7 424.9L122.2 423.5" stroke="#222" stroke-width="0.8" fill="none"/>
<path d="M123.9 423.0L121.5 425.1L122.2 423.5L120.7 422.6Z" fill="#222"/>
<path d="M127.9 424.9L133.3 422.5" stroke="#222" stroke-width="0.8" fill="none"/>
<path d="M135.3 421.6L132.5 424.4L133.3 422.5L131.4 421.8Z" fill="#222"/>
<path d="M138.1 424.9L148.4 421.1" stroke="#222" stroke-width="0.8" fill="none"/>
<path d="M150.6 420.3L147.4 423.0L148.4 421.1L146.4 420.3Z" fill="#222"/>
<path d="M148.3 424.9L160.0 419.2" stroke="#222" stroke-width="0.8" fill="none"/>
<path d="M162.1 418.2L159.2 421.2L160.0 419.2L157.9 418.6Z" fill="#222"/>
<path d="M158.4 424.9L171.8 418.4" stroke="#222" stroke-width="0.8" fill="none"/>
<path d="M173.9 417.4L171.0 420.4L171.8 418.4L169.7 417.8Z" fill="#222"/>
<path d="M168.6 424.9L184.1 419.6" stroke="#222" stroke-width="0.8" fill="none"/>
<path d="M186.3 418.8L183.1 421.5L184.1 419.6L182.1 418.7Z" fill="#222"/>
<path d="M178.8 424.9L194.6 420.0" stroke="#222" stroke-width="0.8" fill="none"/>
<path d="M196.8 419.3L193.5 421.9L194.6 420.0L192.6 419.0Z" fill="#222"/>
<path d="M189.0 424.9L205.9 420.3" stroke="#222" stroke-width="0.8" fill="none"/>
<path d="M208.2 419.7L204.8 422.2L205.9 420.3L204.0 419.3Z" fill="#222"/>
<path d="M199.2 424.9L213.9 420.7" stroke="#222" stroke-width="0.8" fill="none"/>
<path d="M216.2 420.1L212.9 422.6L213.9 420.7L212.0 419.7Z" fill="#222"/>
<path d="M209.4 424.9L228.1 420.3" stroke="#222" stroke-width="0.8" fill="none"/>
<path d="M230.6 419.7L226.8 422.3L228.1 420.3L226.0 419.1Z" fill="#222"/>
<path d="M229.8 424.9L244.5 422.9" stroke="#222" stroke-width="0.8" fill="none"/>
<path d="M246.8 422.6L243.1 424.6L244.5 422.9L242.7 421.7Z" fill="#222"/>
<path d="M250.2 424.9L263.0 424.1" stroke="#222" stroke-width="0.8" fill="none"/>
<path d="M265.3 423.9L261.5 425.6L263.0 424.1L261.3 422.7Z" fill="#222"/>
<path d="M291.0 424.9L308.4 422.9" stroke="#222" stroke-width="0.8" fill="none"/>
<path d="M310.8 422.6L307.0 424.6L308.4 422.9L306.7 421.6Z" fill="#222"/>
<path d="M352.2 424.9L365.7 428.3" stroke="#222" stroke-width="0.8" fill="none"/>
<path d="M368.0 428.9L363.9 429.4L365.7 428.3L364.6 426.5Z" fill="#222"/>
<path d="M66.7 445.5L79.0 444.2" stroke="#222" stroke-width="0.8" fill="none"/>
<path d="M81.3 444.0L77.6 445.9L79.0 444.2L77.3 442.9Z" fill="#222"/>
<path d="M107.5 445.5L109.9 443.3" stroke="#222" stroke-width="0.9500000000000001" fill="none"/>
<path d="M117.7 445.5L123.7 442.7" stroke="#222" stroke-width="0.8" fill="none"/>
<path d="M125.8 441.7L122.9 444.7L123.7 442.7L121.6 442.0Z" fill="#222"/>
<path d="M127.9 445.5L135.5 439.0" stroke="#222" stroke-width="0.8" fill="none"/>
<path d="M137.3 437.5L135.3 441.2L135.5 439.0L133.4 438.9Z" fill="#222"/>
<path d="M138.1 445.5L145.9 439.7" stroke="#222" stroke-width="0.8" fill="none"/>
<path d="M147.8 438.3L145.5 441.8L145.9 439.7L143.8 439.4Z" fill="#222"/>
<path d="M148.3 445.5L155.7 438.5" stroke="#222" stroke-width="0.8" fill="none"/>
<path d="M157.4 436.9L155.6 440.7L155.7 438.5L153.5 438.5Z" fill="#222"/>
<path d="M158.4 445.5L163.6 441.0" stroke="#222" stroke-width="0.8" fill="none"/>
<path d="M165.3 439.4L163.4 443.1L163.6 441.0L161.4 440.9Z" fill="#222"/>
<path d="M168.6 445.5L178.5 440.3" stroke="#222" stroke-width="0.8" fill="none"/>
<path d="M180.6 439.2L177.8 442.3L178.5 440.3L176.5 439.7Z" fill="#222"/>
<path d="M178.8 445.5L187.2 440.1" stroke="#222" stroke-width="0.8" fill="none"/>
<path d="M189.2 438.8L186.7 442.2L187.2 440.1L185.1 439.7Z" fill="#222"/>
<path d="M189.0 445.5L198.5 441.3" stroke="#222" stroke-width="0.8" fill="none"/>
<path d="M200.6 440.4L197.6 443.3L198.5 441.3L196.4 440.6Z" fill="#222"/>
<path d="M199.2 445.5L205.1 444.3" stroke="#222" stroke-width="0.8" fill="none"/>
<path d="M207.3 443.8L204.0 446.0L205.1 444.3L203.4 443.1Z" fill="#222"/>
<path d="M209.4 445.5L224.4 446.7" stroke="#222" stroke-width="0.8" fill="none"/>
<path d="M226.7 446.9L222.7 448.1L224.4 446.7L222.9 445.1Z" fill="#222"/>
<path d="M229.8 445.5L243.6 448.0" stroke="#222" stroke-width="0.8" fill="none"/>
<path d="M245.9 448.4L241.8 449.2L243.6 448.0L242.3 446.2Z" fill="#222"/>
<path d="M250.2 445.5L267.6 448.4" stroke="#222" stroke-width="0.8" fill="none"/>
<path d="M270.0 448.8L265.8 449.6L267.6 448.4L266.3 446.6Z" fill="#222"/>
<path d="M291.0 445.5L306.9 446.7" stroke="#222" stroke-width="0.8" fill="none"/>
<path d="M309.2 446.9L305.2 448.1L306.9 446.7L305.4 445.1Z" fill="#222"/>
<path d="M352.2 445.5L364.3 445.5" stroke="#222" stroke-width="0.8" fill="none"/>
<path d="M366.6 445.5L362.7 447.0L364.3 445.5L362.7 444.0Z" fill="#222"/>
<path d="M66.7 466.0L81.0 464.5" stroke="#222" stroke-width="0.8" fill="none"/>
<path d="M83.3 464.2L79.6 466.1L81.0 464.5L79.3 463.1Z" fill="#222"/>
<path d="M107.5 466.0L109.9 464.0" stroke="#222" stroke-width="0.9500000000000001" fill="none"/>
<path d="M117.7 466.0L121.8 461.5" stroke="#222" stroke-width="0.8" fill="none"/>
<path d="M123.3 459.9L121.8 463.6L121.8 461.5L119.7 461.7Z" fill="#222"/>
<path d="M127.9 466.0L133.0 458.9" stroke="#222" stroke-width="0.8" fill="none"/>
<path d="M134.4 457.0L133.3 461.0L133.0 458.9L130.9 459.3Z" fill="#222"/>
<path d="M138.1 466.0L143.5 458.9" stroke="#222" stroke-width="0.8" fill="none"/>
<path d="M144.9 457.0L143.7 461.0L143.5 458.9L141.4 459.2Z" fill="#222"/>
<path d="M178.8 466.0L182.2 466.4" stroke="#222" stroke-width="0.8" fill="none"/>
<path d="M183.4 466.5L181.2 467.2L182.2 466.4L181.4 465.4Z" fill="#222"/>
<circle cx="189.0" cy="466.0" r="0.5" fill="#222" opacity="0.7"/>
<path d="M199.2 466.0L202.0 467.5" stroke="#222" stroke-width="0.9500000000000001" fill="none"/>
<path d="M209.4 466.0L214.0 468.8" stroke="#222" stroke-width="0.8" fill="none"/>
<path d="M215.7 469.8L212.1 469.3L214.0 468.8L213.6 466.8Z" fill="#222"/>
<path d="M229.8 466.0L232.5 468.5" stroke="#222" stroke-width="0.9500000000000001" fill="none"/>
<path d="M250.2 466.0L257.8 472.1" stroke="#222" stroke-width="0.8" fill="none"/>
<path d="M259.6 473.6L255.6 472.3L257.8 472.1L257.5 470.0Z" fill="#222"/>
<path d="M291.0 466.0L300.4 471.2" stroke="#222" stroke-width="0.8" fill="none"/>
<path d="M302.5 472.3L298.4 471.7L300.4 471.2L299.8 469.1Z" fill="#222"/>
<path d="M352.2 466.0L359.7 468.6" stroke="#222" stroke-width="0.8" fill="none"/>
<path d="M361.9 469.4L357.7 469.5L359.7 468.6L358.7 466.7Z" fill="#222"/>
<path d="M66.7 486.2L79.9 485.7" stroke="#222" stroke-width="0.8" fill="none"/>
<path d="M82.2 485.6L78.4 487.2L79.9 485.7L78.2 484.3Z" fill="#222"/>
<path d="M107.5 486.2L113.5 485.1" stroke="#222" stroke-width="0.8" fill="none"/>
<path d="M115.7 484.7L112.3 486.8L113.5 485.1L111.7 483.9Z" fill="#222"/>
<path d="M117.7 486.2L123.2 483.0" stroke="#222" stroke-width="0.8" fill="none"/>
<path d="M125.2 481.8L122.6 485.0L123.2 483.0L121.1 482.5Z" fill="#222"/>
<path d="M127.9 486.2L129.1 482.3" stroke="#222" stroke-width="0.8" fill="none"/>
<path d="M129.6 480.9L129.9 483.6L129.1 482.3L127.8 482.9Z" fill="#222"/>
<path d="M178.8 486.2L178.3 483.2" stroke="#222" stroke-width="0.9500000000000001" fill="none"/>
<path d="M189.0 486.2L188.2 483.2" stroke="#222" stroke-width="0.9500000000000001" fill="none"/>
<path d="M199.2 486.2L197.8 488.1" stroke="#222" stroke-width="0.9500000000000001" fill="none"/>
<path d="M209.4 486.2L207.6 489.0" stroke="#222" stroke-width="0.8" fill="none"/>
<path d="M206.9 490.0L207.3 487.8L207.6 489.0L208.8 488.8Z" fill="#222"/>
<path d="M229.8 486.2L227.5 491.4" stroke="#222" stroke-width="0.8" fill="none"/>
<path d="M226.7 493.3L226.8 489.5L227.5 491.4L229.4 490.7Z" fill="#222"/>
<path d="M250.2 486.2L249.8 491.4" stroke="#222" stroke-width="0.8" fill="none"/>
<path d="M249.7 493.3L248.5 490.0L249.8 491.4L251.3 490.2Z" fill="#222"/>
<path d="M291.0 486.2L295.9 492.4" stroke="#222" stroke-width="0.8" fill="none"/>
<path d="M297.4 494.2L293.8 492.1L295.9 492.4L296.1 490.2Z" fill="#222"/>
<path d="M352.2 486.2L360.0 489.5" stroke="#222" stroke-width="0.8" fill="none"/>
<path d="M362.2 490.4L358.0 490.3L360.0 489.5L359.2 487.5Z" fill="#222"/>
<path d="M66.7 506.7L79.9 506.5" stroke="#222" stroke-width="0.8" fill="none"/>
<path d="M82.2 506.5L78.3 508.0L79.9 506.5L78.3 505.1Z" fill="#222"/>
<path d="M107.5 506.7L111.5 506.4" stroke="#222" stroke-width="0.8" fill="none"/>
<path d="M113.0 506.3L110.6 507.6L111.5 506.4L110.4 505.4Z" fill="#222"/>
<path d="M117.7 506.7L121.2 506.9" stroke="#222" stroke-width="0.8" fill="none"/>
<path d="M122.5 507.0L120.3 507.8L121.2 506.9L120.4 505.9Z" fill="#222"/>
<path d="M127.9 506.7L128.5 506.7" stroke="#222" stroke-width="0.9500000000000001" fill="none"/>
<path d="M178.8 506.7L174.8 507.2" stroke="#222" stroke-width="0.9500000000000001" fill="none"/>
<path d="M189.0 506.7L184.3 505.7" stroke="#222" stroke-width="0.8" fill="none"/>
<path d="M182.5 505.3L185.7 504.6L184.3 505.7L185.2 507.2Z" fill="#222"/>
<path d="M199.2 506.7L193.2 506.9" stroke="#222" stroke-width="0.8" fill="none"/>
<path d="M191.0 507.0L194.7 505.4L193.2 506.9L194.8 508.3Z" fill="#222"/>
<path d="M209.4 506.7L204.7 506.9" stroke="#222" stroke-width="0.8" fill="none"/>
<path d="M203.0 507.0L205.8 505.6L204.7 506.9L206.0 508.2Z" fill="#222"/>
<path d="M229.8 506.7L224.8 508.1" stroke="#222" stroke-width="0.8" fill="none"/>
<path d="M222.9 508.6L225.6 506.4L224.8 508.1L226.4 509.1Z" fill="#222"/>
<path d="M250.2 506.7L247.1 504.6" stroke="#222" stroke-width="0.8" fill="none"/>
<path d="M245.9 503.8L248.4 504.2L247.1 504.6L247.3 506.0Z" fill="#222"/>
<path d="M291.0 506.7L292.4 508.6" stroke="#222" stroke-width="0.9500000000000001" fill="none"/>
<path d="M352.2 506.7L357.8 507.4" stroke="#222" stroke-width="0.8" fill="none"/>
<path d="M359.9 507.6L356.2 508.6L357.8 507.4L356.6 505.8Z" fill="#222"/>
<rect x="139.16" y="465.30" width="23.44" height="51.05" fill="url(#g2)"/>
<rect x="136.76" y="464.00" width="2.6" height="52.35" fill="#000"/>
<rect x="162.60" y="465.30" width="6.9" height="51.05" fill="#dadada" stroke="#2b6cab" stroke-width="1.15"/>
<text x="84.3" y="407" class="bl" xml:space="preserve">Horizontal  horseshoe vortex</text>
<path d="M162 408.5L193.2 474.3" stroke="#10b0f0" stroke-width="1.35" fill="none"/><circle cx="193.4" cy="474.7" r="1.7" fill="#10b0f0"/>
<path d="M200.6 462.1C202.4 462.4 207.5 463.3 211.5 464.0C215.5 464.7 220.8 465.3 224.8 466.5C228.8 467.7 232.3 469.1 235.3 471.3C238.3 473.5 241.3 477.2 243.0 479.9C244.7 482.6 245.5 485.1 245.5 487.6C245.5 490.2 244.8 492.9 243.0 495.2C241.2 497.5 237.8 499.9 234.4 501.5C231.1 503.1 227.0 503.9 222.9 504.8C218.8 505.7 213.5 506.6 209.6 506.8C205.7 507.1 202.6 506.7 199.7 506.3C196.8 505.9 194.7 505.2 192.4 504.2C190.1 503.2 187.9 501.8 186.0 500.5C184.1 499.2 182.1 497.7 180.8 496.3C179.5 494.9 178.6 492.7 178.2 492.0" stroke="#10b0f0" stroke-width="2.8" stroke-dasharray="7.35 2.52" stroke-dashoffset="0" fill="none"/>
<path d="M177.6 482.1L174 494.2L178.2 491.8L181.3 493.2Z" fill="#10b0f0"/>
<path d="M56.50 514.44h-2.6M56.50 510.37h-2.6M56.50 502.23h-2.6M56.50 498.16h-2.6M56.50 494.09h-2.6M56.50 490.02h-2.6M56.50 481.88h-2.6M56.50 477.81h-2.6M56.50 473.74h-2.6M56.50 469.67h-2.6M56.50 461.53h-2.6M56.50 457.46h-2.6M56.50 453.39h-2.6M56.50 449.32h-2.6M56.50 441.18h-2.6M56.50 437.11h-2.6M56.50 433.04h-2.6M56.50 428.97h-2.6M56.50 420.83h-2.6M56.50 416.76h-2.6M56.50 412.69h-2.6M56.50 408.62h-2.6M64.66 516.35v1.9M72.81 516.35v1.9M80.97 516.35v1.9M89.12 516.35v1.9M105.44 516.35v1.9M113.59 516.35v1.9M121.75 516.35v1.9M129.90 516.35v1.9M146.22 516.35v1.9M154.37 516.35v1.9M162.53 516.35v1.9M170.68 516.35v1.9M187.00 516.35v1.9M195.15 516.35v1.9M203.31 516.35v1.9M211.46 516.35v1.9M227.78 516.35v1.9M235.93 516.35v1.9M244.09 516.35v1.9M252.24 516.35v1.9M268.56 516.35v1.9M276.71 516.35v1.9M284.87 516.35v1.9M293.02 516.35v1.9M309.34 516.35v1.9M317.49 516.35v1.9M325.65 516.35v1.9M333.80 516.35v1.9M350.12 516.35v1.9M358.27 516.35v1.9M366.43 516.35v1.9" stroke="#9a9a9a" stroke-width="0.6" fill="none"/>
<path d="M56.50 506.30h-4.2M56.50 485.95h-4.2M56.50 465.60h-4.2M56.50 445.25h-4.2M56.50 424.90h-4.2M56.50 404.55h-4.2M56.50 516.35v2.9M97.28 516.35v2.9M138.06 516.35v2.9M178.84 516.35v2.9M219.62 516.35v2.9M260.40 516.35v2.9M301.18 516.35v2.9M341.96 516.35v2.9" stroke="#111" stroke-width="1.1" fill="none"/>
<path d="M56.50 404.00V516.35H371.50" fill="none" stroke="#111" stroke-width="1.45"/>
<text x="52.20" y="510.00" text-anchor="end" class="t">0.0</text>
<text x="52.20" y="489.65" text-anchor="end" class="t">0.1</text>
<text x="52.20" y="469.30" text-anchor="end" class="t">0.2</text>
<text x="52.20" y="448.95" text-anchor="end" class="t">0.3</text>
<text x="52.20" y="428.60" text-anchor="end" class="t">0.4</text>
<text x="52.20" y="408.25" text-anchor="end" class="t">0.5</text>
<text x="56.20" y="526.80" text-anchor="middle" class="t">-0.4</text>
<text x="96.98" y="526.80" text-anchor="middle" class="t">-0.2</text>
<text x="137.76" y="526.80" text-anchor="middle" class="t">0.0</text>
<text x="178.54" y="526.80" text-anchor="middle" class="t">0.2</text>
<text x="219.32" y="526.80" text-anchor="middle" class="t">0.4</text>
<text x="260.10" y="526.80" text-anchor="middle" class="t">0.6</text>
<text x="300.88" y="526.80" text-anchor="middle" class="t">0.8</text>
<text x="341.66" y="526.80" text-anchor="middle" class="t">1.0</text>
<text x="214.10" y="538.95" text-anchor="middle" class="al">x (m)</text>
<text transform="translate(26.20 460.40) rotate(-90)" text-anchor="middle" class="al">y (m)</text>
<text x="7.8" y="410.05" class="pl">(c)</text>
<text x="285" y="415.15" class="rf">0.35 m s<tspan dy="-5" font-size="7.5">-1</tspan></text>
<path d="M342.0 410.2L363.1 410.2" stroke="#222" stroke-width="1.1" fill="none"/>
<path d="M366.0 410.2L361.2 412.1L363.1 410.2L361.2 408.4Z" fill="#222"/>
</svg>
</body></html>
